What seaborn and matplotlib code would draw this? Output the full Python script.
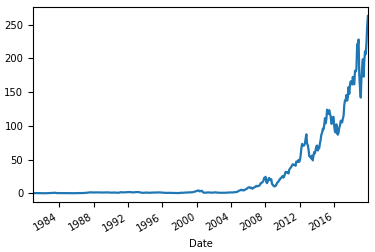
import matplotlib
matplotlib.use("Agg")
import matplotlib.pyplot as plt
import matplotlib.dates as mdates
import pandas as pd
import seaborn as sns

# Quarterly values 1980-2004 (adjusted close)
early_dates = [
    "1980-12-12",
    "1981-03-15", "1981-06-15", "1981-09-15", "1981-12-15",
    "1982-03-15", "1982-06-15", "1982-09-15", "1982-12-15",
    "1983-03-15", "1983-06-15", "1983-09-15", "1983-12-15",
    "1984-03-15", "1984-06-15", "1984-09-15", "1984-12-15",
    "1985-03-15", "1985-06-15", "1985-09-15", "1985-12-15",
    "1986-03-15", "1986-06-15", "1986-09-15", "1986-12-15",
    "1987-03-15", "1987-06-15", "1987-09-15", "1987-12-15",
    "1988-03-15", "1988-06-15", "1988-09-15", "1988-12-15",
    "1989-03-15", "1989-06-15", "1989-09-15", "1989-12-15",
    "1990-03-15", "1990-06-15", "1990-09-15", "1990-12-15",
    "1991-03-15", "1991-06-15", "1991-09-15", "1991-12-15",
    "1992-03-15", "1992-06-15", "1992-09-15", "1992-12-15",
    "1993-03-15", "1993-06-15", "1993-09-15", "1993-12-15",
    "1994-03-15", "1994-06-15", "1994-09-15", "1994-12-15",
    "1995-03-15", "1995-06-15", "1995-09-15", "1995-12-15",
    "1996-03-15", "1996-06-15", "1996-09-15", "1996-12-15",
    "1997-03-15", "1997-06-15", "1997-09-15", "1997-12-15",
    "1998-03-15", "1998-06-15", "1998-09-15", "1998-12-15",
    "1999-03-15", "1999-06-15", "1999-09-15", "1999-12-15",
    "2000-01-15", "2000-03-22", "2000-05-15", "2000-06-15", "2000-08-15",
    "2000-09-29", "2000-11-15", "2000-12-15",
    "2001-03-15", "2001-06-15", "2001-09-15", "2001-12-15",
    "2002-03-15", "2002-06-15", "2002-09-15", "2002-12-15",
    "2003-03-15", "2003-06-15", "2003-09-15", "2003-12-15",
    "2004-03-15", "2004-06-15", "2004-09-15", "2004-12-15",
]
early_close = [
    0.45,
    0.38, 0.45, 0.30, 0.30,
    0.25, 0.20, 0.30, 0.45,
    0.65, 0.95, 0.45, 0.35,
    0.40, 0.40, 0.45, 0.45,
    0.40, 0.30, 0.22, 0.33,
    0.38, 0.50, 0.45, 0.60,
    0.90, 1.20, 1.60, 1.30,
    1.40, 1.45, 1.40, 1.25,
    1.25, 1.45, 1.45, 1.10,
    1.10, 1.30, 0.95, 1.00,
    1.80, 1.40, 1.60, 1.70,
    2.00, 1.60, 1.50, 1.90,
    1.95, 1.40, 0.80, 0.95,
    1.20, 0.85, 1.10, 1.25,
    1.20, 1.40, 1.40, 1.20,
    0.90, 0.70, 0.80, 0.70,
    0.60, 0.50, 0.40, 0.45,
    0.90, 0.90, 1.20, 1.30,
    1.30, 1.60, 2.20, 3.20,
    3.50, 4.40, 2.90, 3.20, 3.90,
    1.60, 1.00, 0.95,
    1.30, 1.40, 1.00, 1.30,
    1.50, 1.10, 0.90, 0.90,
    0.90, 0.95, 1.30, 1.30,
    1.40, 1.70, 2.10, 4.00,
]

# Monthly values 2005-2019
monthly_start = "2005-01-15"
monthly_close = [
    4.7, 5.4, 5.1, 4.4, 4.9, 4.5, 5.2, 5.8, 6.5, 7.0, 8.3, 8.8,
    9.2, 8.4, 7.7, 8.6, 7.3, 7.0, 8.3, 8.7, 9.4, 9.9, 11.2, 10.4,
    10.6, 10.9, 11.4, 12.3, 14.9, 15.0, 16.3, 17.0, 18.7, 23.0, 22.5, 24.6,
    16.5, 15.2, 17.5, 21.3, 22.9, 20.5, 19.5, 20.9, 13.9, 13.1, 11.2, 10.4,
    11.0, 10.9, 12.8, 15.3, 16.5, 17.4, 19.9, 20.4, 22.7, 23.1, 24.4, 25.8,
    23.4, 25.1, 28.7, 31.8, 31.5, 30.8, 31.4, 29.4, 34.7, 36.6, 38.0, 39.4,
    41.6, 43.1, 42.6, 42.6, 42.0, 40.9, 47.3, 46.9, 46.6, 49.5, 46.7, 49.5,
    56.1, 66.4, 73.3, 71.7, 70.6, 71.0, 74.5, 81.0, 87.5, 73.8, 71.4, 65.0,
    55.5, 54.2, 54.4, 51.5, 55.8, 49.0, 56.6, 61.3, 59.4, 65.1, 70.0, 70.9,
    63.5, 66.3, 67.0, 74.0, 79.6, 87.2, 89.7, 95.8, 94.8, 101.6, 111.4, 103.9,
    110.3, 124.0, 117.6, 118.0, 123.3, 118.2, 114.2, 103.0, 104.0, 113.0, 113.4, 99.0,
    91.5, 90.3, 102.3, 88.6, 87.0, 89.9, 97.6, 100.4, 107.6, 107.4, 105.1, 110.7,
    115.4, 130.8, 137.7, 137.6, 146.0, 137.4, 142.3, 157.4, 147.6, 161.6, 166.1, 163.4,
    161.3, 172.7, 162.4, 161.7, 181.6, 180.5, 184.2, 221.0, 220.5, 228.0, 174.7, 155.6,
    142.0, 170.4, 187.1, 198.8, 172.9, 195.9, 210.4, 206.2, 222.2, 247.2, 263.0,
]

dates = pd.to_datetime(early_dates).append(
    pd.date_range(monthly_start, periods=len(monthly_close), freq="MS") + pd.Timedelta(days=14)
)
df = pd.DataFrame({"Date": dates, "Close": early_close + monthly_close})

plt.rcParams["font.family"] = "DejaVu Sans"
plt.rcParams["font.size"] = 7.2
fig = plt.figure(figsize=(3.75, 2.52), dpi=100)
ax = fig.add_axes([0.088, 0.198, 0.893, 0.774])
sns.lineplot(data=df, x="Date", y="Close", ax=ax, color="#1f77b4", linewidth=1.6)
ax.set_xlim(df["Date"].min(), df["Date"].max())
ax.set_ylabel("")
ax.set_xlabel("Date")
ax.set_yticks([0, 50, 100, 150, 200, 250])
ax.xaxis.set_major_locator(mdates.YearLocator(4))
ax.xaxis.set_major_formatter(mdates.DateFormatter("%Y"))
for lab in ax.get_xticklabels():
    lab.set_rotation(30)
    lab.set_ha("right")
fig.savefig("out.png", dpi=100)
